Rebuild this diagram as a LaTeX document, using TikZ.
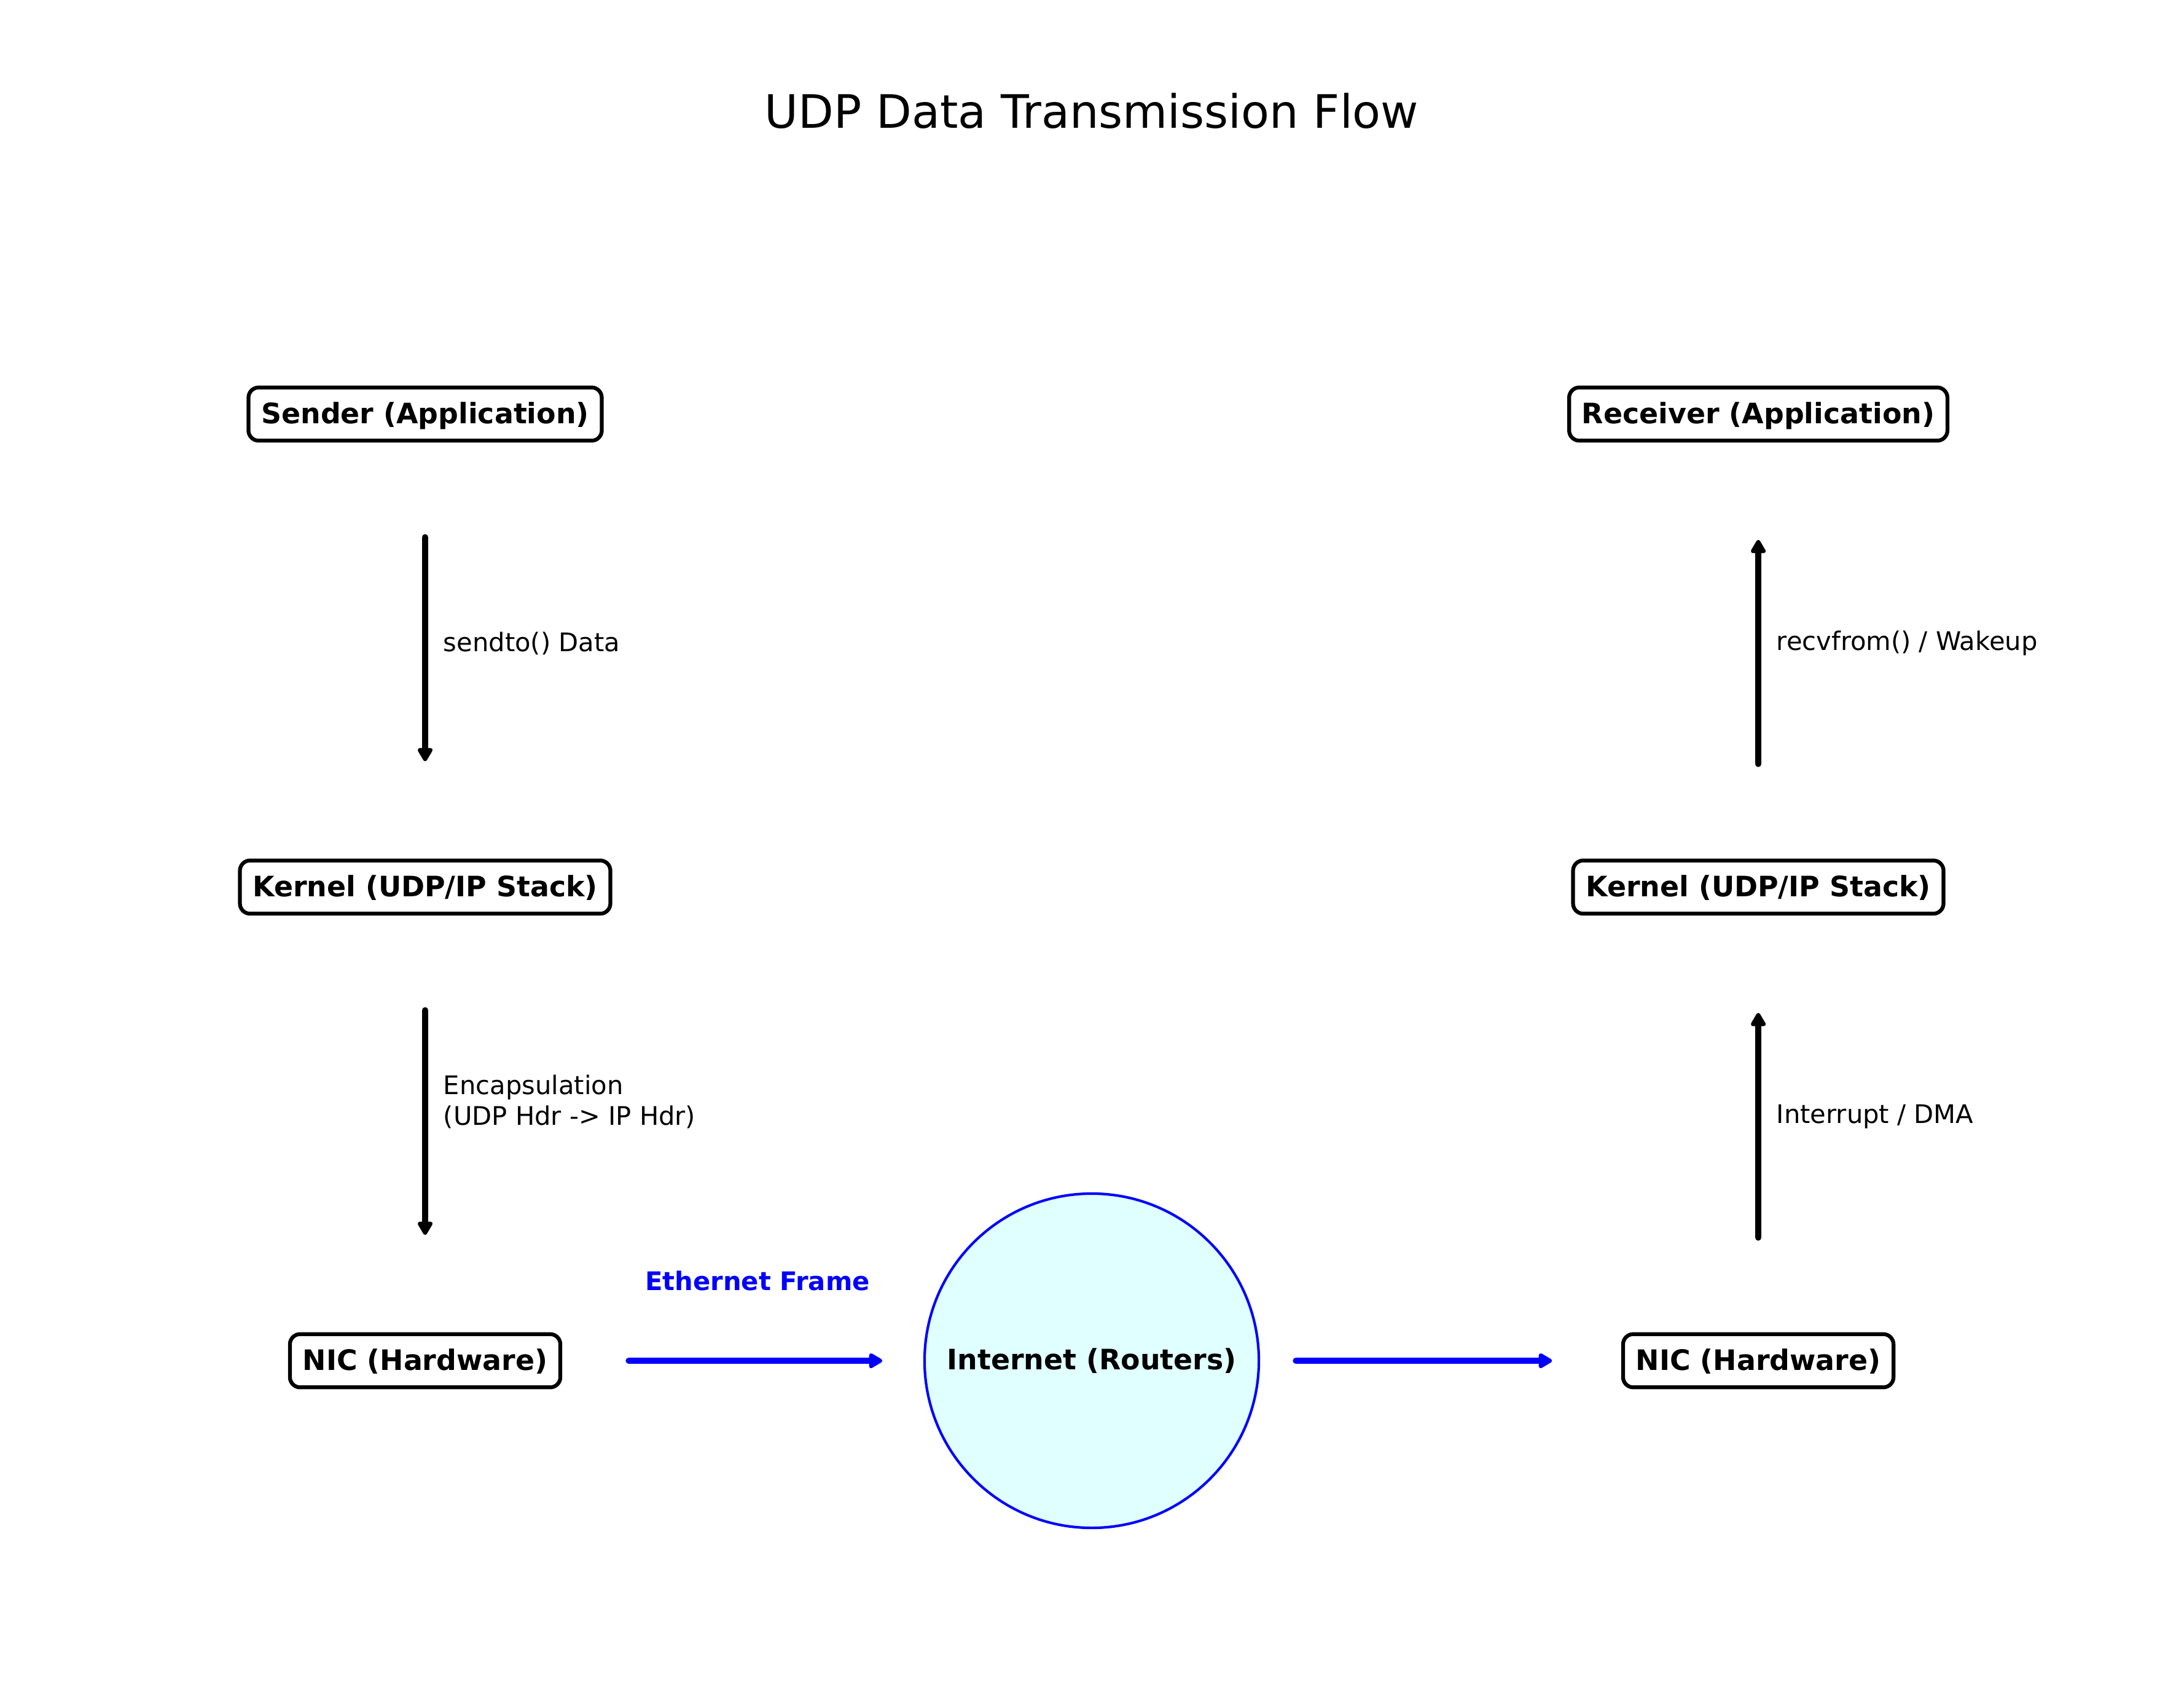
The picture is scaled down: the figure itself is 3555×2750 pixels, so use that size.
\documentclass[tikz,border=0pt]{standalone}
\usepackage{fontspec}
\setmainfont{DejaVu Sans}
\usetikzlibrary{arrows.meta}
\definecolor{lcyan}{HTML}{E0FFFF}
\begin{document}
\begin{tikzpicture}[x=0.24pt,y=-0.24pt,
  box/.style={draw, line width=1.5pt, rounded corners=4pt, fill=white,
    font=\bfseries\fontsize{11}{13}\selectfont, text height=10.2pt, text depth=2.6pt,
    inner xsep=5pt, inner ysep=4pt},
  lbl/.style={font=\fontsize{10}{12}\selectfont, anchor=west, align=left, inner sep=0pt},
  flow/.style={line width=2.5pt, line cap=round,
    -{Triangle[length=6pt,width=6.5pt,round]}},
  net/.style={flow, blue}]
\useasboundingbox (0,0) rectangle (3555,2750);
\node[font=\fontsize{18}{22}\selectfont] (title) at (1777,181) {UDP Data Transmission Flow};

\node[box] (snd) at (692,674) {Sender (Application)};
\node[box] (kl) at (692,1444) {Kernel (UDP/IP Stack)};
\node[box] (nl) at (692,2215) {NIC (Hardware)};
\node[box] (rcv) at (2862,674) {Receiver (Application)};
\node[box] (kr) at (2862,1444) {Kernel (UDP/IP Stack)};
\node[box] (nr) at (2862,2215) {NIC (Hardware)};
\node[circle, draw=blue, line width=1pt, fill=lcyan, minimum size=130.6pt, inner sep=0pt,
  font=\bfseries\fontsize{11}{13}\selectfont] (net) at (1777,2215) {Internet (Routers)};

\draw[flow, shorten <=37pt, shorten >=38pt] (snd) -- (kl);
\draw[flow, shorten <=37pt, shorten >=38pt] (kl) -- (nl);
\draw[flow, shorten <=37pt, shorten >=38pt] (kr) -- (rcv);
\draw[flow, shorten <=37pt, shorten >=38pt] (nr) -- (kr);
\draw[net, shorten <=26pt, shorten >=16pt] (nl) -- (net);
\draw[net, shorten <=14pt, shorten >=27pt] (net) -- (nr);

\node[lbl] (l1) at (721,1047) {sendto() Data};
\node[lbl] (l2) at (721,1793) {Encapsulation\\(UDP Hdr -> IP Hdr)};
\node[lbl] (l3) at (2891,1047) {recvfrom() / Wakeup};
\node[lbl] (l4) at (2891,1818) {Interrupt / DMA};
\node[font=\bfseries\fontsize{10}{12}\selectfont, text=blue] (eth) at (1233,2085) {Ethernet Frame};
\end{tikzpicture}
\end{document}
